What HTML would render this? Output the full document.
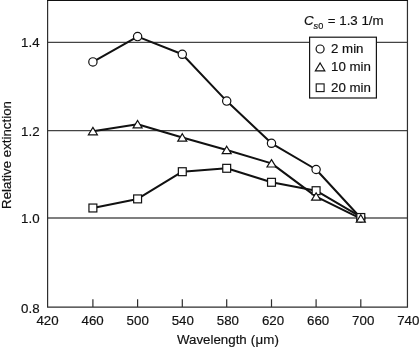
<!DOCTYPE html>
<html><head><meta charset="utf-8">
<style>
html,body{margin:0;padding:0;background:#fff;}
svg{display:block}
text{font-family:"Liberation Sans",sans-serif;fill:#111;stroke:#111;stroke-width:0.18px;}
</style></head><body>
<svg width="420" height="348" viewBox="0 0 420 348">
<rect width="420" height="348" fill="#fff"/>
<g stroke="#444" stroke-width="1.1" fill="none">
<line x1="47.7" y1="42.4" x2="407.3" y2="42.4"/>
<line x1="47.7" y1="130.6" x2="407.3" y2="130.6"/>
<line x1="47.7" y1="218" x2="407.3" y2="218" stroke="#555" stroke-width="1.5"/>
</g>
<g stroke="#2e2e2e" stroke-width="1.2" fill="none">
<path d="M47.6,0 V307.15 H407.45 V0"/>
<line x1="47" y1="0.4" x2="408" y2="0.4" stroke="#111" stroke-width="1.2"/>
<line x1="92.90" y1="299.3" x2="92.90" y2="307"/>
<line x1="137.60" y1="299.3" x2="137.60" y2="307"/>
<line x1="182.30" y1="299.3" x2="182.30" y2="307"/>
<line x1="226.70" y1="299.3" x2="226.70" y2="307"/>
<line x1="271.50" y1="299.3" x2="271.50" y2="307"/>
<line x1="316.10" y1="299.3" x2="316.10" y2="307"/>
<line x1="360.80" y1="299.3" x2="360.80" y2="307"/>
</g>
<g fill="none" stroke="#111" stroke-width="2" stroke-linejoin="round">
<polyline points="92.90,61.90 137.60,36.60 182.30,54.30 226.70,101.10 271.50,143.30 316.10,169.50 360.80,218.00"/>
<polyline points="92.90,131.20 137.60,124.30 182.30,137.50 226.70,150.00 271.50,163.40 316.10,196.60 360.80,218.70"/>
<polyline points="92.90,208.00 137.60,198.90 182.30,171.70 226.70,168.30 271.50,182.30 316.10,190.70 360.80,216.80"/>
</g>
<g fill="#fff" stroke="#111" stroke-width="1.2">
<circle cx="92.90" cy="61.90" r="4.15"/>
<circle cx="137.60" cy="36.60" r="4.15"/>
<circle cx="182.30" cy="54.30" r="4.15"/>
<circle cx="226.70" cy="101.10" r="4.15"/>
<circle cx="271.50" cy="143.30" r="4.15"/>
<circle cx="316.10" cy="169.50" r="4.15"/>
<circle cx="360.80" cy="218.00" r="4.15"/>
</g>
<g fill="#fff" stroke="#111" stroke-width="1.2">
<rect x="88.95" y="204.05" width="7.9" height="7.9"/>
<rect x="133.65" y="194.95" width="7.9" height="7.9"/>
<rect x="178.35" y="167.75" width="7.9" height="7.9"/>
<rect x="222.75" y="164.35" width="7.9" height="7.9"/>
<rect x="267.55" y="178.35" width="7.9" height="7.9"/>
<rect x="312.15" y="186.75" width="7.9" height="7.9"/>
<rect x="356.85" y="213.55" width="7.9" height="7.9"/>
</g>
<g fill="#fff" stroke="#111" stroke-width="1.2">
<path d="M92.90,127.40 L97.40,134.80 L88.40,134.80 Z"/>
<path d="M137.60,120.50 L142.10,127.90 L133.10,127.90 Z"/>
<path d="M182.30,133.70 L186.80,141.10 L177.80,141.10 Z"/>
<path d="M226.70,146.20 L231.20,153.60 L222.20,153.60 Z"/>
<path d="M271.50,159.60 L276.00,167.00 L267.00,167.00 Z"/>
<path d="M316.10,192.80 L320.60,200.20 L311.60,200.20 Z"/>
<path d="M360.80,214.70 L365.30,222.10 L356.30,222.10 Z"/>
</g>
<rect x="309.6" y="37.2" width="66.8" height="60.8" fill="#fff" stroke="#151515" stroke-width="1.2"/>
<circle cx="320.1" cy="49" r="4" fill="#fff" stroke="#111" stroke-width="1.2"/>
<path d="M320.1,63.0 L324.8,70.8 L315.4,70.8 Z" fill="#fff" stroke="#111" stroke-width="1.2"/>
<rect x="316.2" y="83.9" width="7.9" height="7.7" fill="#fff" stroke="#111" stroke-width="1.1"/>
<g font-size="13.3">
<text x="331" y="52.5">2 min</text>
<text x="331" y="71">10 min</text>
<text x="331" y="91.5">20 min</text>
<text x="304" y="25.25"><tspan font-style="italic">C</tspan><tspan font-size="9.2" dy="3.5" font-style="italic">s</tspan><tspan font-size="9.2">0</tspan><tspan dy="-3.5" dx="0.8"> = 1.3 1/m</tspan></text>
</g>
<g font-size="13.3" text-anchor="end">
<text x="39.6" y="46.9">1.4</text>
<text x="39.6" y="135.5">1.2</text>
<text x="39.6" y="223.0">1.0</text>
<text x="39.6" y="313.0">0.8</text>
</g>
<g font-size="13.3" text-anchor="middle">
<text x="47.50" y="325.2">420</text>
<text x="92.60" y="325.2">460</text>
<text x="137.70" y="325.2">500</text>
<text x="182.80" y="325.2">540</text>
<text x="227.90" y="325.2">580</text>
<text x="273.00" y="325.2">620</text>
<text x="318.10" y="325.2">660</text>
<text x="363.20" y="325.2">700</text>
<text x="408.30" y="325.2">740</text>
</g>
<text x="177" y="344.1" font-size="13.3">Wavelength <tspan dx="0.4">(</tspan><tspan font-size="13.3" dx="0.3">μ</tspan><tspan dx="0.1">m)</tspan></text>
<text transform="translate(11.3,155.0) rotate(-90)" font-size="13.3" text-anchor="middle">Relative extinction</text>
</svg>
</body></html>
